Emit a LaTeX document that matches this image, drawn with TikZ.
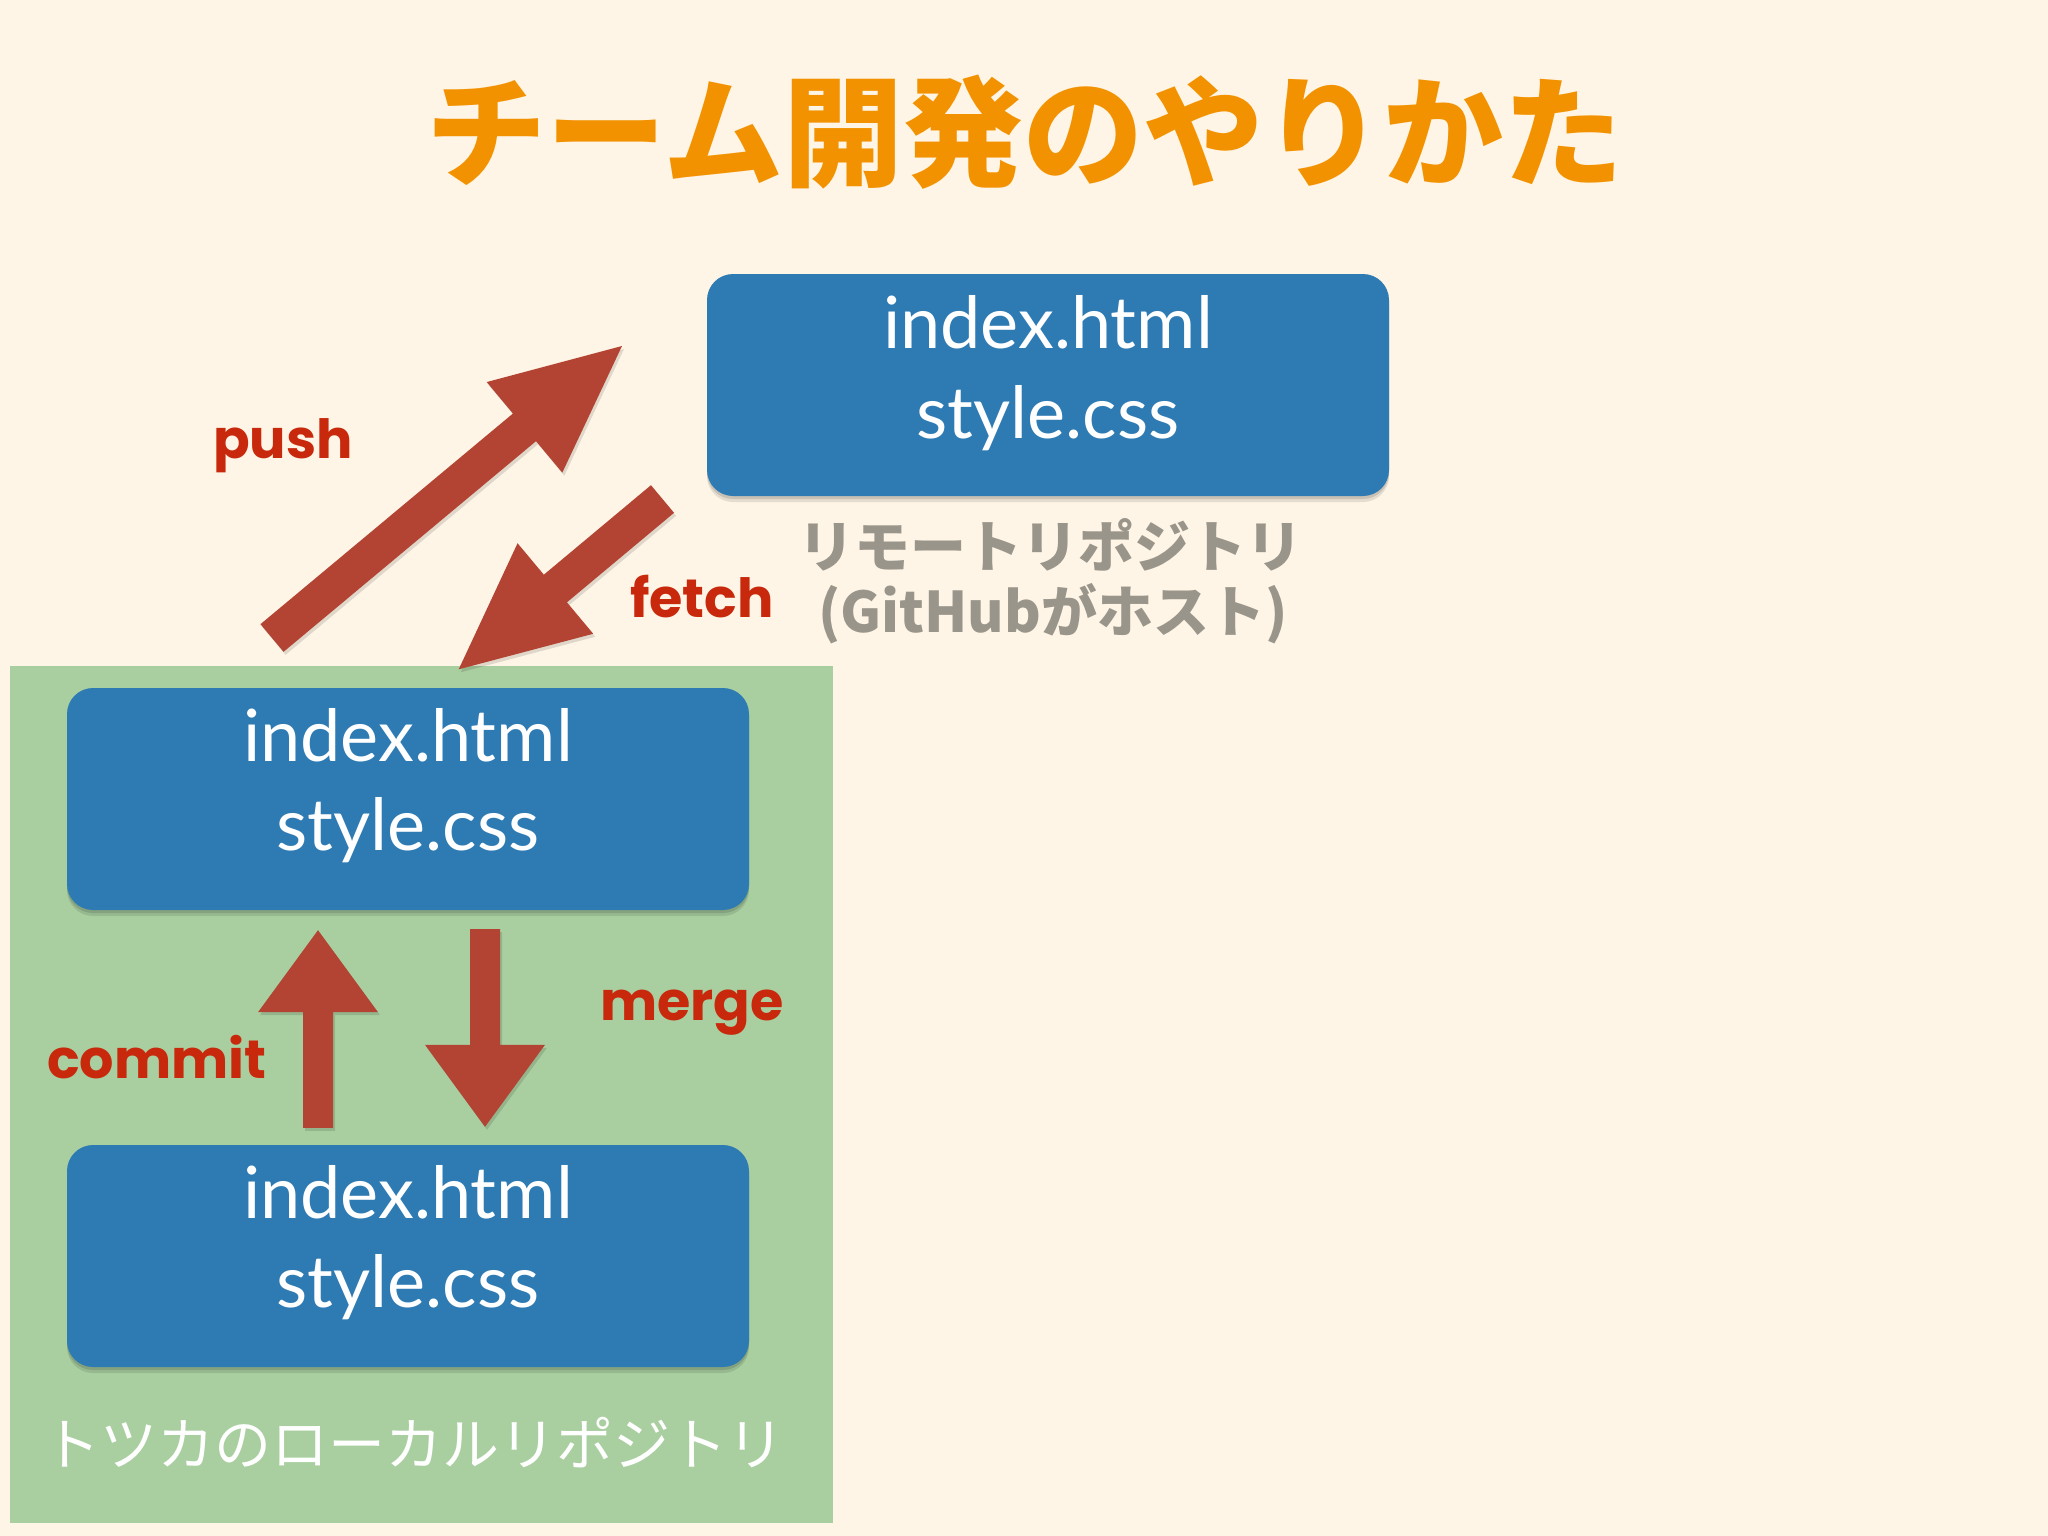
\documentclass[tikz,border=0pt]{standalone}
\usepackage{fontspec}
\setmainfont{Lato}
\newfontfamily\jp{Noto Sans CJK JP}
\newfontfamily\opfont{Poppins}
\usetikzlibrary{calc,shadows}
\definecolor{bgcol}{HTML}{FEF5E6}
\definecolor{boxblue}{HTML}{2E7BB4}
\definecolor{areagreen}{HTML}{A9CFA0}
\definecolor{arrowred}{HTML}{B34332}
\definecolor{labelred}{HTML}{C8290C}
\definecolor{titleorange}{HTML}{F39200}
\definecolor{remgray}{HTML}{9A958A}
\newcommand\blockarrow[6]{%
  \path ($(#3)!#6!(#2)$) coordinate (#1-b);
  \fill[arrowshape] ($(#2)!#4!90:(#3)$) -- ($(#1-b)!#4!90:(#3)$) -- ($(#1-b)!#5!90:(#3)$) -- (#3) -- ($(#1-b)!#5!-90:(#3)$) -- ($(#1-b)!#4!-90:(#3)$) -- ($(#2)!#4!-90:(#3)$) -- cycle;
}
\begin{document}
\begin{tikzpicture}[x=1pt,y=-1pt,
  filebox/.style={draw=none, fill=boxblue, rounded corners=26pt,
    minimum width=682pt, minimum height=222pt, inner sep=0pt,
    drop shadow={shadow xshift=0pt, shadow yshift=-6pt, opacity=0.10, fill=black},
    drop shadow={shadow xshift=0pt, shadow yshift=-3pt, opacity=0.12, fill=black}},
  filetext/.style={text=white, inner sep=0pt, anchor=base,
    font=\fontsize{72}{84}\selectfont},
  oplabel/.style={text=labelred, inner sep=0pt, anchor=base west,
    font=\opfont\bfseries\fontsize{54}{64}\selectfont},
  remlabel/.style={text=remgray, inner sep=0pt,
    font=\jp\bfseries\fontsize{56}{66}\selectfont},
  loclabel/.style={text=white, inner sep=0pt,
    font=\jp\fontsize{57}{66}\selectfont},
  titletext/.style={text=titleorange, inner sep=0pt,
    font=\jp\bfseries\fontsize{120}{140}\selectfont},
  localarea/.style={draw=none, fill=areagreen, inner sep=0pt,
    minimum width=823pt, minimum height=857pt},
  arrowshape/.style={fill=arrowred,
    drop shadow={shadow xshift=2pt, shadow yshift=-3pt, opacity=0.12, fill=black}}
]
\useasboundingbox (0,0) rectangle (2048,1536);
\fill[bgcol] (0,0) rectangle (2048,1536);

% title
\node[titletext] (title) at (1025,132) {チーム開発のやりかた};

% local area
\node[localarea] (local) at (421.5,1094.5) {};
\node[loclabel] (loclab) at (414,1443) {トツカのローカルリポジトリ};

% boxes
\node[filebox] (remote) at (1048,385) {};
\node[filetext] (remote1) at (1048,348) {index.html};
\node[filetext] (remote2) at (1048,438) {style.css};

\node[filebox] (work) at (408,799) {};
\node[filetext] (work1) at (408,761) {index.html};
\node[filetext] (work2) at (408,850) {style.css};

\node[filebox] (stage) at (408,1256) {};
\node[filetext] (stage1) at (408,1218) {index.html};
\node[filetext] (stage2) at (408,1307) {style.css};

% remote label
\node[remlabel] (remlab1) at (1050,545) {リモートリポジトリ};
\node[remlabel] (remlab2) at (1053,614) {(GitHubがホスト)};

% arrows
\coordinate (pushT) at (272,638);
\coordinate (pushH) at (622,346);
\coordinate (fetchT) at (662.5,499);
\coordinate (fetchH) at (458.7,669.3);
\coordinate (commitT) at ($(stage.north)+(-90,-17)$);
\coordinate (commitH) at ($(work.south)+(-90,20)$);
\coordinate (mergeT) at ($(work.south)+(77,19)$);
\coordinate (mergeH) at ($(stage.north)+(77,-18)$);

\blockarrow{push}{pushT}{pushH}{18pt}{59pt}{127pt}
\blockarrow{fetch}{fetchT}{fetchH}{18pt}{59pt}{126pt}
\blockarrow{commit}{commitT}{commitH}{15pt}{60pt}{82pt}
\blockarrow{merge}{mergeT}{mergeH}{15pt}{60pt}{82pt}

% operation labels
\node[oplabel] (pushlab) at (213,458) {push};
\node[oplabel] (fetchlab) at (630,617) {fetch};
\node[oplabel] (commitlab) at (47,1078) {commit};
\node[oplabel] (mergelab) at (600,1020) {merge};
\end{tikzpicture}
\end{document}
